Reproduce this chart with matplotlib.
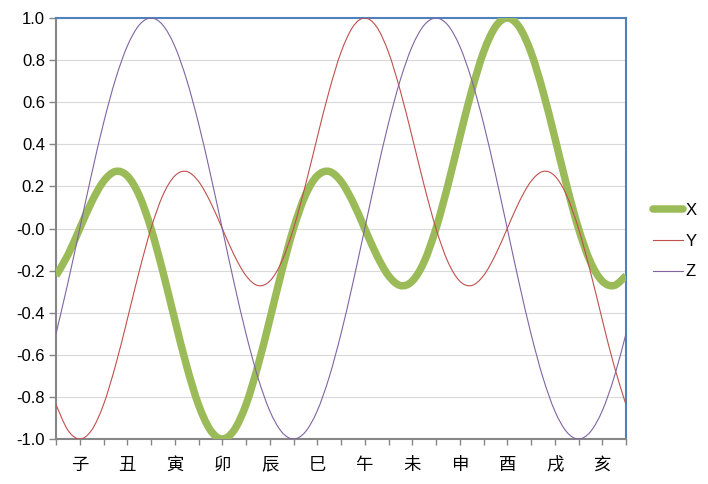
import matplotlib
matplotlib.use("Agg")
from matplotlib import pyplot as plt
from matplotlib.lines import Line2D
from matplotlib.path import Path
from matplotlib.patches import PathPatch
import numpy as np

plt.rcParams['font.family'] = ['Liberation Sans', 'Noto Sans CJK SC', 'DejaVu Sans']

# 十二时辰
categories = ['子', '丑', '寅', '卯', '辰', '巳', '午', '未', '申', '酉', '戌', '亥']

# 每个时辰取 4 个点（共 49 点，首尾相接）
x_vals = [
    -0.224, -0.126, 0.000, 0.126, 0.224, 0.271, 0.250, 0.158,
    0.000, -0.205, -0.433, -0.653, -0.837, -0.958, -1.000, -0.958,
    -0.837, -0.653, -0.433, -0.205, 0.000, 0.158, 0.250, 0.271,
    0.224, 0.126, 0.000, -0.126, -0.224, -0.271, -0.250, -0.158,
    0.000, 0.205, 0.433, 0.653, 0.837, 0.958, 1.000, 0.958,
    0.837, 0.653, 0.433, 0.205, 0.000, -0.158, -0.250, -0.271,
    -0.224,
]
y_vals = [
    -0.837, -0.958, -1.000, -0.958, -0.837, -0.653, -0.433, -0.205,
    0.000, 0.158, 0.250, 0.271, 0.224, 0.126, 0.000, -0.126,
    -0.224, -0.271, -0.250, -0.158, 0.000, 0.205, 0.433, 0.653,
    0.837, 0.958, 1.000, 0.958, 0.837, 0.653, 0.433, 0.205,
    0.000, -0.158, -0.250, -0.271, -0.224, -0.126, 0.000, 0.126,
    0.224, 0.271, 0.250, 0.158, 0.000, -0.205, -0.433, -0.653,
    -0.837,
]
z_vals = [
    -0.500, -0.259, 0.000, 0.259, 0.500, 0.707, 0.866, 0.966,
    1.000, 0.966, 0.866, 0.707, 0.500, 0.259, 0.000, -0.259,
    -0.500, -0.707, -0.866, -0.966, -1.000, -0.966, -0.866, -0.707,
    -0.500, -0.259, 0.000, 0.259, 0.500, 0.707, 0.866, 0.966,
    1.000, 0.966, 0.866, 0.707, 0.500, 0.259, 0.000, -0.259,
    -0.500, -0.707, -0.866, -0.966, -1.000, -0.966, -0.866, -0.707,
    -0.500,
]
pos = np.arange(len(x_vals)) / 4.0

green = '#9BBB59'
red = '#C0504D'
purple = '#8064A2'
blue = '#4F81BD'
gray = '#868686'


def smooth_path(xs, ys):
    # 平滑线：像 Excel 一样用三次贝塞尔曲线穿过各点
    p = np.column_stack([xs, ys])
    ext = np.vstack([p[0], p, p[-1]])
    verts = [p[0]]
    codes = [Path.MOVETO]
    for i in range(len(p) - 1):
        a, b, c, d = ext[i], ext[i + 1], ext[i + 2], ext[i + 3]
        verts += [b + (c - a) / 6.0, c - (d - b) / 6.0, c]
        codes += [Path.CURVE4] * 3
    return Path(verts, codes)


fig = plt.figure(figsize=(7.08, 4.84), dpi=100)
ax = fig.add_axes([56 / 708, 1 - 439 / 484, 570 / 708, 421 / 484])

for vals, col, w, z in [(x_vals, green, 5.4, 3), (y_vals, red, 0.8, 4), (z_vals, purple, 0.8, 4)]:
    ax.add_patch(PathPatch(smooth_path(pos, vals), fill=False, edgecolor=col, lw=w,
                           capstyle='butt', joinstyle='round', zorder=z))

ax.set_xlim(0, 12)
ax.set_ylim(-1, 1)
ticks = np.arange(-1.0, 1.01, 0.2)
ax.set_yticks(ticks)
ax.set_yticklabels(['%.1f' % v for v in ticks], fontsize=12)
ax.yaxis.grid(True, color='#D9D9D9', lw=0.8)
ax.set_axisbelow(True)

# 刻度线每半个时辰一根，标签在时辰中间
ax.set_xticks(np.arange(12) + 0.5)
ax.set_xticklabels(categories, fontsize=12.5, family=['Noto Sans CJK SC', 'DejaVu Sans'])
ax.set_xticks(np.arange(0, 13), minor=True)
ax.tick_params(axis='x', which='both', direction='out', length=4, color=gray, width=1)
ax.tick_params(axis='x', which='major', pad=8)
ax.tick_params(axis='y', direction='out', length=5, color=gray, width=1, pad=3)

ax.spines['left'].set_color(gray)
ax.spines['bottom'].set_color(gray)
ax.spines['top'].set_color(blue)
ax.spines['right'].set_color(blue)
for s in ax.spines.values():
    s.set_linewidth(1.5)

handles = [
    Line2D([], [], color=green, lw=5.4, solid_capstyle='round'),
    Line2D([], [], color=red, lw=0.8),
    Line2D([], [], color=purple, lw=0.8),
]
fig.legend(handles, ['X', 'Y', 'Z'], loc='center left', bbox_to_anchor=(653 / 708, 1 - 241 / 484),
           frameon=False, fontsize=12, handlelength=1.8, handletextpad=0.15, labelspacing=0.95,
           borderaxespad=0, borderpad=0)

fig.savefig('out.png', dpi=100)
